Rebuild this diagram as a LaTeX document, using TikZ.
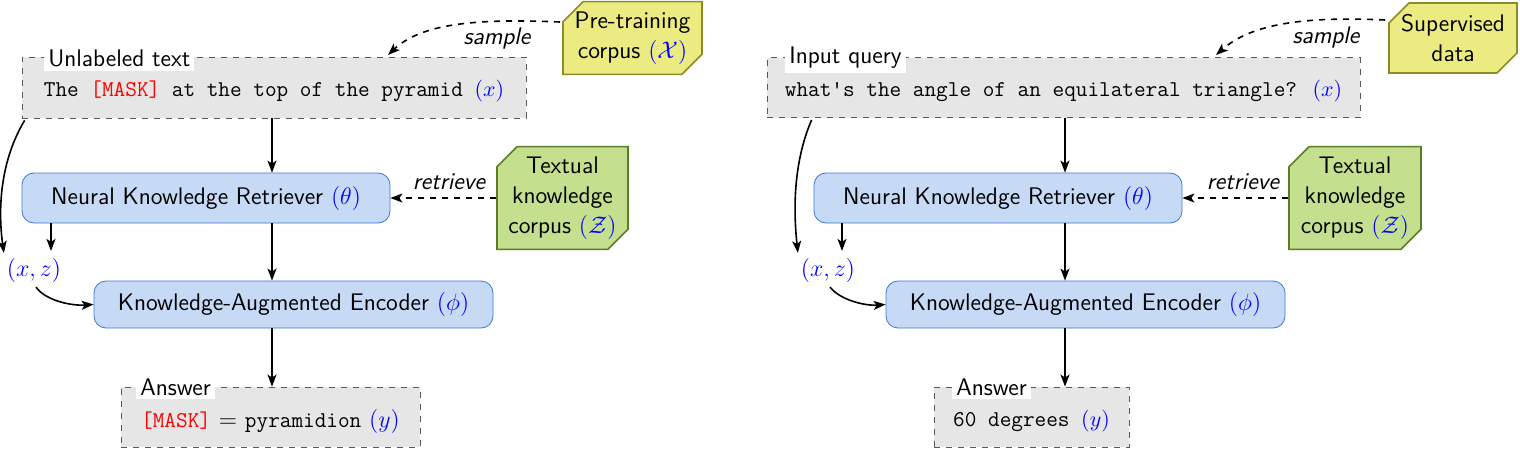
\documentclass[tikz,border=0pt]{standalone}
\usepackage{amsmath}
\usetikzlibrary{shapes.misc,arrows.meta,calc}
\definecolor{gfill}{HTML}{E6E6E6}
\definecolor{bfill}{HTML}{C6DAF6}
\definecolor{bdraw}{HTML}{3F78D0}
\definecolor{yfill}{HTML}{EBEB82}
\definecolor{ydraw}{HTML}{8B8B2A}
\definecolor{lgfill}{HTML}{C4DF8E}
\definecolor{lgdraw}{HTML}{5B7D23}
\newcommand{\mb}[1]{\textcolor{blue}{$#1$}}
\begin{document}
\begin{tikzpicture}[x=0.5pt,y=-0.5pt,
  font=\sffamily\fontsize{12}{14}\selectfont,
  gbox/.style={draw=black!65,dashed,fill=gfill,rectangle,inner sep=0pt},
  tag/.style={fill=white,inner sep=2pt,anchor=west},
  content/.style={font=\ttfamily\fontsize{11.3}{13}\selectfont},
  bbox/.style={draw=bdraw,fill=bfill,rounded corners=6pt,inner sep=0pt},
  corp/.style={chamfered rectangle,chamfered rectangle corners={north west,south east},chamfered rectangle sep=5pt,inner sep=0pt,align=center,font=\sffamily\fontsize{12}{15}\selectfont},
  ycorp/.style={corp,draw=ydraw,fill=yfill,thick},
  gcorp/.style={corp,draw=lgdraw,fill=lgfill,thick},
  arr/.style={-{Stealth[length=6pt,width=4.5pt,inset=1.5pt]},thick},
  darr/.style={arr,dashed},
  lab/.style={font=\sffamily\itshape\fontsize{12}{14}\selectfont}
]
\useasboundingbox (0,0) rectangle (1520,450);
% ---------- left ----------
\node[gbox,minimum width=252pt,minimum height=30.5pt] (u) at (274,87.5) {};
\node[content] at (274,91) {The \textcolor{red}{[MASK]} at the top of the pyramid \mb{(x)}};
\node[tag] at (44,58) {Unlabeled text};
\node[ycorp,minimum width=69.5pt,minimum height=35pt] (pre) at (632.5,38) {Pre-training\\corpus \mb{(\mathcal{X})}};
\node[bbox,minimum width=184pt,minimum height=25pt] (retL) at (206,198) {Neural Knowledge Retriever \mb{(\theta)}};
\node[gcorp,minimum width=65.5pt,minimum height=50pt] (txtL) at (562.5,198) {Textual\\knowledge\\corpus \mb{(\mathcal{Z})}};
\node (xzL) at (34,270) {\mb{(x,z)}};
\node[bbox,minimum width=199.5pt,minimum height=23.5pt] (encL) at (293.5,304.5) {Knowledge-Augmented Encoder \mb{(\phi)}};
\node[gbox,minimum width=149.5pt,minimum height=30pt] (ansL) at (270.5,417) {};
\node at (270.5,421) {\textcolor{red}{\ttfamily\fontsize{11.3}{13}\selectfont[MASK]} $=$ {\ttfamily\fontsize{11.3}{13}\selectfont pyramidion} \mb{(y)}};
\node[tag] at (136,387) {Answer};
\coordinate (ps) at (560,22);
\coordinate (pe) at (388,55);
\draw[darr] (ps) .. controls (470,18) and (420,25) .. (pe);
\node[lab] at (497,38) {sample};
\draw[darr] (txtL.west) -- (retL.east);
\node[lab] at (449,182) {retrieve};
\draw[arr] (u.south -| 272,0) -- (retL.north -| 272,0);
\draw[arr] (retL.south -| 272,0) -- (encL.north -| 272,0);
\draw[arr] (encL.south -| 272,0) -- (ansL.north -| 272,0);
\draw[arr] (retL.south -| 51,0) -- (xzL.north -| 51,0);
\draw[arr] ($(u.south west)+(3,2)$) .. controls (-5,170) and (0,225) .. ($(xzL.north west)+(4,2)$);
\draw[arr] ($(xzL.south)+(2,-2)$) .. controls (45,300) and (70,306) .. (encL.west);
% ---------- right ----------
\node[gbox,minimum width=296.5pt,minimum height=30pt] (q) at (1063.5,87.5) {};
\node[content] at (1063.5,91) {what's the angle of an equilateral triangle? \mb{(x)}};
\node[tag] at (785,58) {Input query};
\node[ycorp,minimum width=64pt,minimum height=35pt] (sup) at (1453,38) {Supervised\\data};
\node[bbox,minimum width=184pt,minimum height=25pt] (retR) at (998,198) {Neural Knowledge Retriever \mb{(\theta)}};
\node[gcorp,minimum width=66pt,minimum height=50pt] (txtR) at (1355,198) {Textual\\knowledge\\corpus \mb{(\mathcal{Z})}};
\node (xzR) at (828,270) {\mb{(x,z)}};
\node[bbox,minimum width=199.5pt,minimum height=23.5pt] (encR) at (1085.5,304.5) {Knowledge-Augmented Encoder \mb{(\phi)}};
\node[gbox,minimum width=97.5pt,minimum height=30pt] (ansR) at (1031.5,417) {};
\node[content] at (1031.5,421) {60 degrees \mb{(y)}};
\node[tag] at (952,387) {Answer};
\coordinate (ss) at (1385,20);
\coordinate (se) at (1216,55);
\draw[darr] (ss) .. controls (1300,16) and (1250,25) .. (se);
\node[lab] at (1326,37) {sample};
\draw[darr] (txtR.west) -- (retR.east);
\node[lab] at (1243,182) {retrieve};
\draw[arr] (q.south -| 1065,0) -- (retR.north -| 1065,0);
\draw[arr] (retR.south -| 1065,0) -- (encR.north -| 1065,0);
\draw[arr] (encR.south -| 1065,0) -- (ansR.north -| 1065,0);
\draw[arr] (retR.south -| 842,0) -- (xzR.north -| 842,0);
\draw[arr] ($(q.south west)+(45,2)$) .. controls (790,170) and (795,225) .. ($(xzR.north west)+(4,2)$);
\draw[arr] ($(xzR.south)+(2,-2)$) .. controls (840,300) and (865,306) .. (encR.west);
\end{tikzpicture}
\end{document}
